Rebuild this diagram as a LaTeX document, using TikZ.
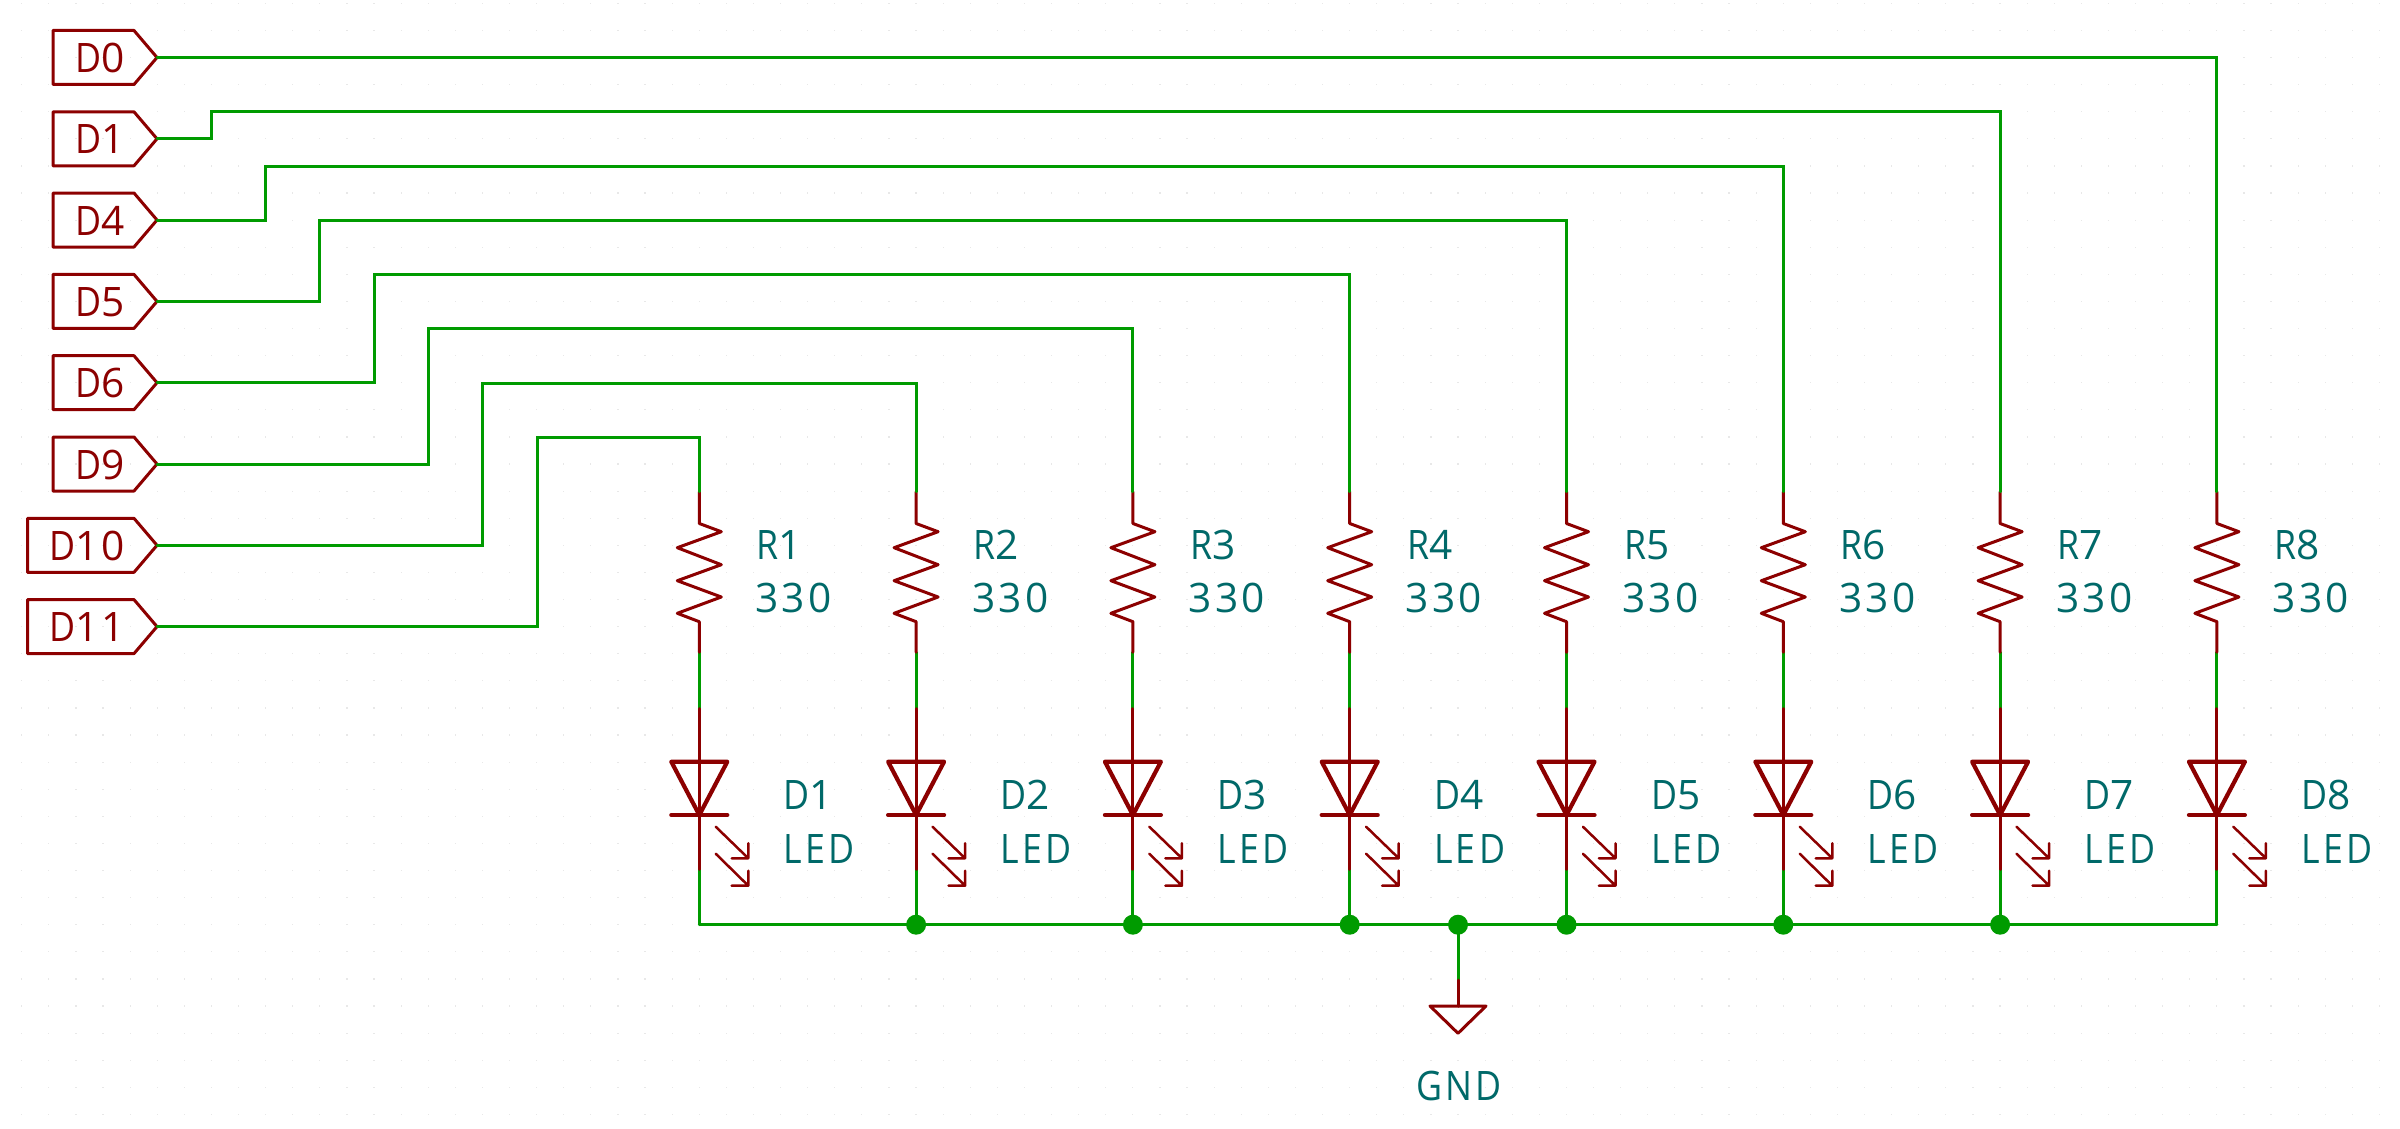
\documentclass[tikz,border=0pt]{standalone}
\usepackage{fontspec}
\setmainfont[LetterSpace=8]{Open Sans}
\newfontfamily\ltrfont[LetterSpace=8,FakeStretch=0.88]{Open Sans}
\newcommand{\lt}[1]{{\ltrfont #1}}
\definecolor{kred}{RGB}{140,0,0}
\definecolor{kgreen}{RGB}{0,155,0}
\definecolor{kteal}{RGB}{0,105,105}
\definecolor{kdot}{RGB}{232,232,232}
\tikzset{
  wire/.style={draw=kgreen,line width=3pt,line cap=round,line join=miter},
  sym/.style={draw=kred,line width=3pt,line cap=round,line join=round},
  led/.style={draw=kred,line width=4.2pt,line cap=round,line join=round},
  ref/.style={text=kteal,font=\fontsize{40.6}{48}\selectfont,inner sep=0pt,outer sep=0pt,anchor=base west},
  sig/.style={text=kred,font=\fontsize{40.6}{48}\selectfont,inner sep=0pt,outer sep=0pt,anchor=base east},
  junction/.style={circle,fill=kgreen,draw=none,minimum size=20pt,inner sep=0pt}
}
\begin{document}
\begin{tikzpicture}[x=1pt,y=-1pt]
\useasboundingbox (0,0) rectangle (2400,1129);
\fill[white] (0,0) rectangle (2400,1129);
% grid dots
\foreach \i in {0,...,87}{\foreach \j in {0,...,41}{
  \fill[kdot] ({21.7+27.1*\i-0.6},{3.3+27.1*\j-0.6}) rectangle ++(1.2,1.2);
}}
% hierarchical labels
\foreach \n/\yy/\ll/\tt in {0/57.5/53/0,1/138.8/53/1,4/220/53/4,5/301.4/53/5,6/382.7/53/6,9/464/53/9,10/545.3/27.5/10,11/626.6/27.5/11}{
  \coordinate (tip\n) at (157,\yy);
  \draw[sym] (\ll,\yy-27) -- (134,\yy-27) -- (tip\n) -- (134,\yy+27) -- (\ll,\yy+27) -- cycle;
  \node[sig] (lab\n) at (125,\yy+15) {\lt{D}\tt};
}
% channels
\foreach \k in {1,...,8}{
  \pgfmathsetmacro{\xx}{699.3+216.8*(\k-1)}
  \coordinate (Rtop\k) at (\xx,491.7);
  \coordinate (Rbot\k) at (\xx,652.3);
  \coordinate (Dtop\k) at (\xx,708.5);
  \coordinate (Dbot\k) at (\xx,869.3);
  \coordinate (bus\k) at (\xx,924.7);
  \draw[wire] (Rbot\k) -- (Dtop\k);
  \draw[wire] (Dbot\k) -- (bus\k);
  % resistor
  \draw[sym] (Rtop\k) -- (\xx,523.5) -- (\xx+22,531.7) -- (\xx-22,547.7) -- (\xx+22,564.7) -- (\xx-22,580.7) -- (\xx+22,597) -- (\xx-22,613.3) -- (\xx,621.7) -- (Rbot\k);
  % LED
  \draw[sym] (Dtop\k) -- (Dbot\k);
  \draw[led] (\xx-28,761.7) -- (\xx+28,761.7) -- (\xx,815) -- cycle;
  \draw[led] (\xx-28,815) -- (\xx+28,815);
  \draw[sym,line width=2.5pt] (\xx+16.4,826.7) -- (\xx+49,858.3) (\xx+32.4,858.3) -- (\xx+49,858.3) -- (\xx+49,843.3);
  \draw[sym,line width=2.5pt] (\xx+16.4,853.7) -- (\xx+49,885.7) (\xx+32.4,885.7) -- (\xx+49,885.7) -- (\xx+49,870.7);
  % texts
  \node[ref] (Rn\k) at (\xx+57.5,559) {\lt{R}\k};
  \node[ref] (Rv\k) at (\xx+56,612.7) {330};
  \node[ref] (Dn\k) at (\xx+84.5,809) {\lt{D}\k};
  \node[ref] (Dv\k) at (\xx+84.5,863.3) {\lt{LED}};
}
% wires from labels
\draw[wire] (tip0) -| (Rtop8);
\draw[wire] (tip1) -| (211,112) -| (Rtop7);
\draw[wire] (tip4) -| (265.5,166) -| (Rtop6);
\draw[wire] (tip5) -| (319.7,220) -| (Rtop5);
\draw[wire] (tip6) -| (374,274.5) -| (Rtop4);
\draw[wire] (tip9) -| (428,328.6) -| (Rtop3);
\draw[wire] (tip10) -| (482,383) -| (Rtop2);
\draw[wire] (tip11) -| (537,437) -| (Rtop1);
% bus
\draw[wire] (bus1) -- (bus8);
\coordinate (gndj) at (1458,924.7);
\coordinate (gndp) at (1458,980);
\draw[wire] (gndj) -- (gndp);
\foreach \k in {2,...,7}{\node[junction] (J\k) at (bus\k) {};}
\node[junction] (J0) at (gndj) {};
% GND symbol
\draw[sym] (gndp) -- (1458,1006);
\draw[sym] (1430,1006) -- (1486,1006) -- (1458,1033.3) -- cycle;
\node[ref,anchor=base] (gndt) at (1459,1100) {\lt{GND}};
\end{tikzpicture}
\end{document}
